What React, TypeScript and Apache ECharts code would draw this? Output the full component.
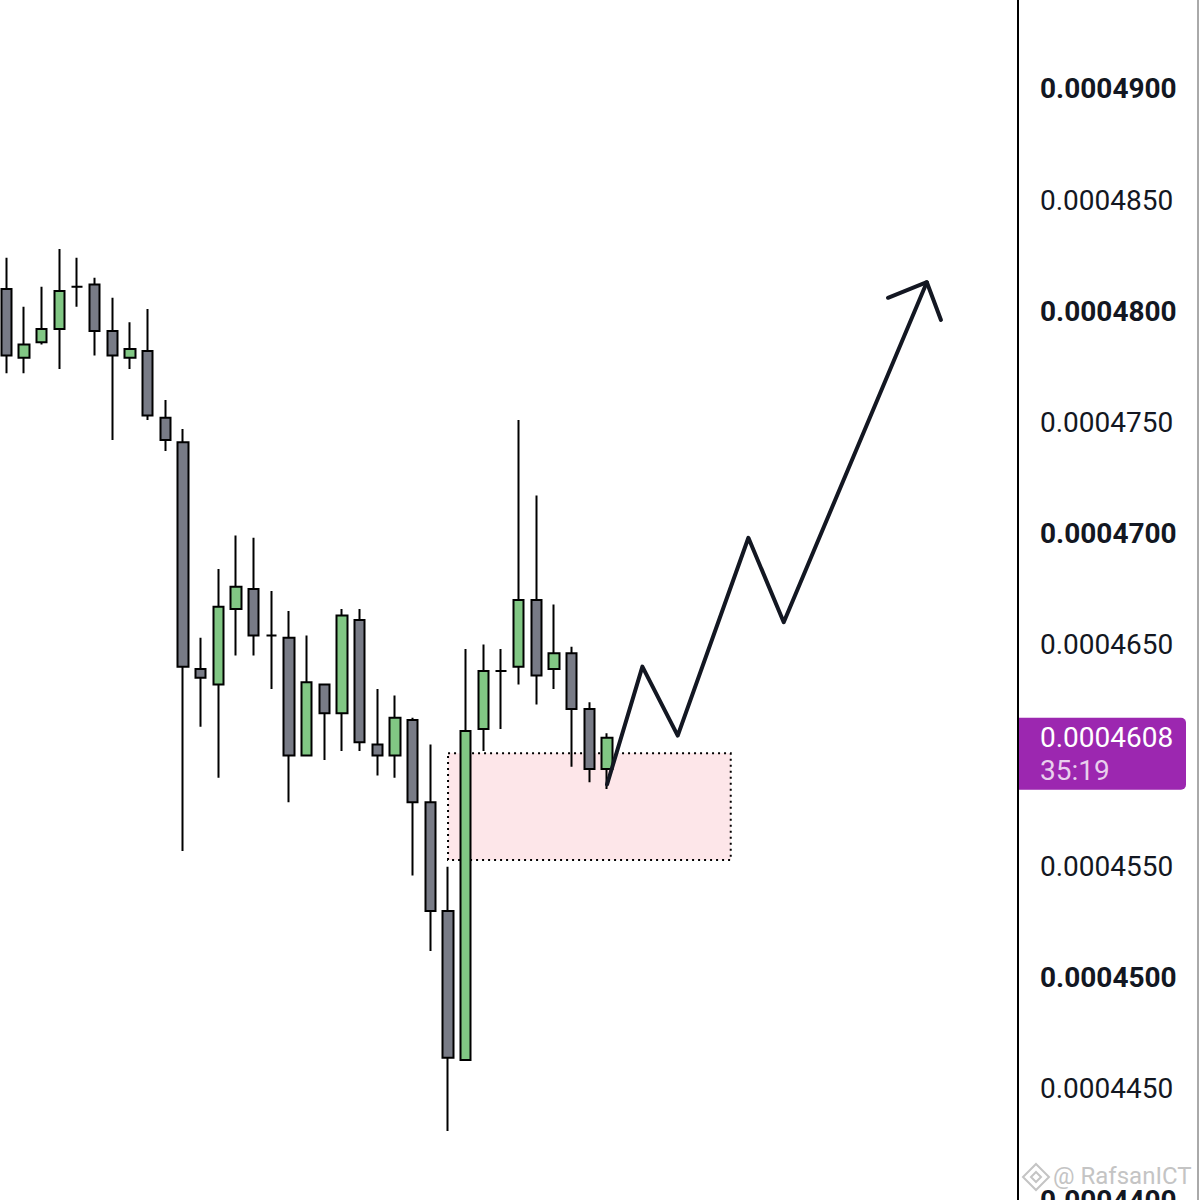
import React, { useEffect, useRef } from "react";
import * as echarts from "echarts";

// Candles (prices), left to right
const OPEN = [
  0.000481, 0.0004779, 0.0004786, 0.0004792, 0.0004811, 0.0004812, 0.0004791, 0.0004779, 0.0004782, 0.0004752,
  0.0004741, 0.0004639, 0.0004632, 0.0004666, 0.0004675, 0.0004654, 0.0004653, 0.00046, 0.0004632, 0.0004619,
  0.0004661, 0.0004605, 0.00046, 0.0004616, 0.0004579, 0.000453, 0.0004463, 0.0004612, 0.0004638, 0.000464,
  0.000467, 0.0004639, 0.0004646, 0.0004621, 0.0004594,
];
const CLOSE = [
  0.000478, 0.0004785, 0.0004792, 0.0004809, 0.0004811, 0.0004791, 0.000478, 0.0004783, 0.0004753, 0.0004742,
  0.000464, 0.0004635, 0.0004667, 0.0004676, 0.0004654, 0.0004654, 0.00046, 0.0004633, 0.0004619, 0.0004663,
  0.0004606, 0.00046, 0.0004617, 0.0004579, 0.000453, 0.0004464, 0.0004611, 0.0004638, 0.0004638, 0.000467,
  0.0004636, 0.0004646, 0.0004621, 0.0004594, 0.0004608,
];
const LOW = [
  0.0004772, 0.0004772, 0.0004785, 0.0004774, 0.0004802, 0.000478, 0.0004742, 0.0004774, 0.0004751, 0.0004737,
  0.0004557, 0.0004613, 0.000459, 0.0004645, 0.0004645, 0.000463, 0.0004579, 0.00046, 0.0004598, 0.0004602,
  0.0004602, 0.0004591, 0.000459, 0.0004546, 0.0004512, 0.0004431, 0.0004463, 0.0004602, 0.0004612, 0.0004632,
  0.0004623, 0.000463, 0.0004595, 0.0004588, 0.0004585,
];
const HIGH = [
  0.0004824, 0.0004802, 0.0004811, 0.0004828, 0.0004824, 0.0004815, 0.0004806, 0.0004795, 0.0004801, 0.000476,
  0.0004747, 0.0004653, 0.0004684, 0.0004699, 0.0004698, 0.0004674, 0.0004665, 0.0004654, 0.0004632, 0.0004666,
  0.0004666, 0.000463, 0.0004627, 0.0004617, 0.0004605, 0.000455, 0.0004648, 0.000465, 0.0004648, 0.0004751,
  0.0004717, 0.0004668, 0.0004649, 0.0004624, 0.000461,
];

// Price axis
const Y_MIN = 0.00044;
const Y_MAX = 0.000494;
const Y_INTERVAL = 0.000005;
// Visible bar range of the time axis
const X_MIN = -0.36;
const X_MAX = 57.26;

const CURRENT_PRICE = 0.0004608;
const COUNTDOWN = "35:19";

// Demand zone (bar index range, price range)
const ZONE_X = [25, 41];
const ZONE_Y = [0.0004553, 0.0004601];

// Projected path (bar index, price)
const PATH_X = [34, 36, 38, 42, 44, 52.1];
const PATH_Y = [0.0004587, 0.000464, 0.0004609, 0.0004698, 0.000466, 0.0004813];
const HEAD_X = [49.9, 52.1, 52.9];
const HEAD_Y = [0.0004806, 0.0004813, 0.0004796];

const WATERMARK = "@ RafsanICT";

const FONT = "Roboto";
const TEXT = "#131722";
const LABEL_SIZE = 28;

export default function App() {
  const ref = useRef<HTMLDivElement>(null);

  useEffect(() => {
    if (!ref.current) return;
    const chart = echarts.init(ref.current, null, { renderer: "svg" });

    const candles = OPEN.map((o, i) => [i, o, CLOSE[i], LOW[i], HIGH[i]]);
    const path = PATH_X.map((x, i) => [x, PATH_Y[i]]);
    const head = HEAD_X.map((x, i) => [x, HEAD_Y[i]]);

    chart.setOption({
      animation: false,
      backgroundColor: "#ffffff",
      grid: {
        left: 0,
        right: 182,
        top: 0,
        bottom: 0,
        containLabel: false,
        outerBoundsMode: "none",
      },
      xAxis: {
        type: "value",
        min: X_MIN,
        max: X_MAX,
        show: false,
        splitLine: { show: false },
      },
      yAxis: {
        type: "value",
        position: "right",
        min: Y_MIN,
        max: Y_MAX,
        interval: Y_INTERVAL,
        axisLine: { show: true, onZero: false, lineStyle: { color: "#000000", width: 2 } },
        axisTick: { show: false },
        splitLine: { show: false },
        axisLabel: {
          margin: 22,
          showMaxLabel: false,
          showMinLabel: true,
          hideOverlap: false,
          formatter: (v: number) => {
            // the tick under the live-price tag is covered by it
            if (Math.abs(v - CURRENT_PRICE) < Y_INTERVAL / 2) return "";
            const major = Math.round(v * 1e7) % 100 === 0;
            return `{${major ? "b" : "n"}|${v.toFixed(7)}}`;
          },
          rich: {
            b: { fontFamily: FONT, fontSize: LABEL_SIZE, fontWeight: "bold", color: TEXT },
            n: { fontFamily: FONT, fontSize: LABEL_SIZE, fontWeight: "normal", color: TEXT },
          },
        },
      },
      series: [
        {
          type: "line",
          data: [],
          z: 1,
          silent: true,
          markArea: {
            silent: true,
            itemStyle: {
              color: "#fde6e9",
              borderColor: "#000000",
              borderWidth: 2,
              borderType: [2, 4],
            },
            data: [[{ xAxis: ZONE_X[0], yAxis: ZONE_Y[1] }, { xAxis: ZONE_X[1], yAxis: ZONE_Y[0] }]],
          },
        },
        {
          type: "candlestick",
          data: candles,
          barWidth: 11,
          z: 3,
          silent: true,
          itemStyle: {
            color: "#81c784",
            color0: "#787b86",
            borderColor: "#000000",
            borderColor0: "#000000",
            borderWidth: 2,
          },
          markLine: {
            silent: true,
            symbol: ["none", "none"],
            label: { show: false },
            lineStyle: { color: "#c9cbd0", width: 2, type: [2, 6] },
            data: [{ yAxis: CURRENT_PRICE }],
          },
        },
        {
          type: "line",
          data: path,
          z: 5,
          silent: true,
          showSymbol: false,
          symbol: "none",
          lineStyle: { color: "#131722", width: 4, cap: "round", join: "round" },
        },
        {
          type: "line",
          data: head,
          z: 5,
          silent: true,
          showSymbol: false,
          symbol: "none",
          lineStyle: { color: "#131722", width: 4, cap: "round", join: "round" },
        },
      ],
    });

    const py = chart.convertToPixel({ yAxisIndex: 0 }, CURRENT_PRICE) as number;
    const ax = chart.convertToPixel({ xAxisIndex: 0 }, X_MAX) as number;

    chart.setOption({
      graphic: {
        elements: [
          {
            type: "rect",
            z: 100,
            shape: { x: ax + 1, y: py - 20, width: 167, height: 72, r: [0, 5, 5, 0] },
            style: { fill: "#9c27b0" },
          },
          {
            type: "text",
            z: 101,
            x: ax + 22,
            y: py,
            style: {
              text: CURRENT_PRICE.toFixed(7),
              fill: "#ffffff",
              fontFamily: FONT,
              fontSize: LABEL_SIZE,
              verticalAlign: "middle",
              align: "left",
            },
          },
          {
            type: "text",
            z: 101,
            x: ax + 22,
            y: py + 33,
            style: {
              text: COUNTDOWN,
              fill: "rgba(255,255,255,0.78)",
              fontFamily: FONT,
              fontSize: LABEL_SIZE,
              verticalAlign: "middle",
              align: "left",
            },
          },
          {
            type: "line",
            z: 100,
            shape: { x1: 1198, y1: 0, x2: 1198, y2: 1200 },
            style: { stroke: "#555555", lineWidth: 1 },
          },
          {
            type: "polygon",
            z: 100,
            shape: { points: [[1036, 1164], [1049, 1177], [1036, 1190], [1023, 1177]] },
            style: { fill: "none", stroke: "#c4c4c4", lineWidth: 2 },
          },
          {
            type: "polygon",
            z: 100,
            shape: { points: [[1036, 1172], [1041, 1177], [1036, 1182], [1031, 1177]] },
            style: { fill: "none", stroke: "#c4c4c4", lineWidth: 2 },
          },
          {
            type: "text",
            z: 100,
            x: 1053,
            y: 1176,
            style: {
              text: WATERMARK,
              fill: "#c4c4c4",
              fontFamily: FONT,
              fontSize: 24,
              verticalAlign: "middle",
              align: "left",
            },
          },
        ],
      },
    });

    return () => chart.dispose();
  }, []);

  return (
    <div
      ref={ref}
      style={{ position: "fixed", left: 0, top: 0, width: 1200, height: 1200, background: "#fff" }}
    />
  );
}
